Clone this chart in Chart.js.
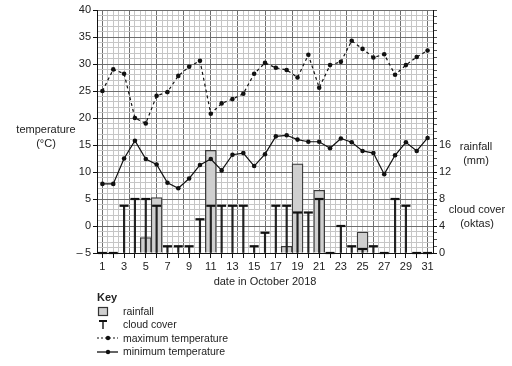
<!DOCTYPE html>
<html>
<head>
<meta charset="utf-8">
<script src="https://cdn.jsdelivr.net/npm/chart.js@4/dist/chart.umd.min.js"></script>
<style>
  html, body { margin: 0; padding: 0; background: #fff; }
  #wrap { position: relative; width: 512px; height: 366px; font-family: "Liberation Sans", Arial, sans-serif; color: #222; }
  canvas { position: absolute; left: 0; top: 0; }
  .lbl { position: absolute; font-size: 11px; text-align: center; line-height: 14px; white-space: nowrap; }
  #key { position: absolute; left: 97px; top: 289px; font-size: 10.5px; }
  #key .title { font-weight: bold; font-size: 11px; height: 16px; line-height: 16px; }
  #key .row { height: 13.3px; line-height: 13.3px; display: flex; align-items: center; }
  #key svg { width: 22px; height: 12px; margin-right: 4px; flex: none; }
</style>
</head>
<body>
<div id="wrap">
  <canvas id="c" width="512" height="366"></canvas>
  <div class="lbl" style="left:6px;top:122px;width:80px;">temperature<br>(°C)</div>
  <div class="lbl" style="left:446px;top:139px;width:60px;">rainfall<br>(mm)</div>
  <div class="lbl" style="left:443px;top:202px;width:68px;">cloud cover<br>(oktas)</div>
  <div id="key">
    <div class="title">Key</div>
    <div class="row"><svg viewBox="0 0 22 12"><rect x="1.5" y="1.5" width="9" height="8" fill="#cfcfcf" stroke="#333" stroke-width="1.2"/></svg>rainfall</div>
    <div class="row"><svg viewBox="0 0 22 12"><line x1="2" y1="2" x2="10" y2="2" stroke="#111" stroke-width="2"/><line x1="6" y1="2" x2="6" y2="10" stroke="#111" stroke-width="1.4"/></svg>cloud cover</div>
    <div class="row"><svg viewBox="0 0 22 12"><line x1="0" y1="6" x2="21" y2="6" stroke="#111" stroke-width="1.2" stroke-dasharray="2,2"/><circle cx="11" cy="6" r="2.2" fill="#111"/></svg>maximum temperature</div>
    <div class="row"><svg viewBox="0 0 22 12"><line x1="0" y1="6" x2="21" y2="6" stroke="#111" stroke-width="1.3"/><circle cx="11" cy="6" r="2.2" fill="#111"/></svg>minimum temperature</div>
  </div>
</div>
<script>
// ---- data ----
const days = [1,2,3,4,5,6,7,8,9,10,11,12,13,14,15,16,17,18,19,20,21,22,23,24,25,26,27,28,29,30,31];
const maxTemp = [25.0,29.0,28.2,20.0,19.0,24.1,24.8,27.8,29.5,30.6,20.8,22.7,23.5,24.5,28.2,30.2,29.3,28.9,27.5,31.7,25.6,29.8,30.4,34.3,32.8,31.2,31.8,28.0,29.8,31.3,32.5];
const minTemp = [7.8,7.8,12.5,15.8,12.4,11.4,8.0,7.0,8.8,11.3,12.4,10.3,13.2,13.5,11.1,13.3,16.6,16.8,16.0,15.6,15.6,14.4,16.2,15.5,13.9,13.5,9.6,13.1,15.5,13.9,16.3];
const rainfall = [0,0,0,0,2.3,8.2,0,0,0,0,15.2,0,0,0,0,0,0,1.0,13.2,0,9.3,0,0,0,3.1,0,0,0,0,0,0];
const cloudCover = [0,0,7,8,8,7,1,1,1,5,7,7,7,7,1,3,7,7,6,6,8,0,4,1,0.6,1,0,8,7,0,0];
const tempTickLabels = [-5,0,5,10,15,20,25,30,35,40];
const rightTickLabels = [0,4,8,12,16];
const dayTickLabels = [1,3,5,7,9,11,13,15,17,19,21,23,25,27,29,31];

const pts = arr => days.map((d, i) => ({x: d, y: arr[i]}));
const isMajorX = v => { const k = (v - 1) / 2.5; return Math.abs(k - Math.round(k)) < 1e-6; };
const clear = 'rgba(0,0,0,0)';
const minorGrid = '#c6c6c6', majorGrid = '#6e6e6e';

new Chart(document.getElementById('c'), {
  type: 'line',
  data: {
    datasets: [
      { type: 'line', label: 'minimum temperature', data: pts(minTemp), yAxisID: 'y',
        borderColor: '#111', backgroundColor: '#111', borderWidth: 1.2,
        pointRadius: 2.3, pointBackgroundColor: '#111', pointBorderWidth: 0, tension: 0 },
      { type: 'line', label: 'maximum temperature', data: pts(maxTemp), yAxisID: 'y',
        borderColor: '#111', backgroundColor: '#111', borderWidth: 1.2, borderDash: [3, 3],
        pointRadius: 2.3, pointBackgroundColor: '#111', pointBorderWidth: 0, tension: 0 },
      { type: 'line', label: 'cloud cover cap', data: pts(cloudCover), yAxisID: 'y2',
        showLine: false, pointStyle: 'line', pointRadius: 4.5, pointBorderWidth: 2.2,
        pointBorderColor: '#111', borderColor: '#111', clip: false },
      { type: 'bar', label: 'cloud cover', data: pts(cloudCover), yAxisID: 'y2',
        backgroundColor: '#222', borderWidth: 0, barThickness: 1.5, grouped: false },
      { type: 'bar', label: 'rainfall', data: pts(rainfall), yAxisID: 'y2',
        backgroundColor: '#cfcfcf', borderColor: '#3a3a3a', borderWidth: 1.3,
        barThickness: 11, grouped: false }
    ]
  },
  options: {
    responsive: false,
    animation: false,
    layout: { padding: { top: 10, left: 0, right: 0, bottom: 0 } },
    plugins: { legend: { display: false }, tooltip: { enabled: false } },
    scales: {
      x: {
        type: 'linear', min: 0.5, max: 31.5, offset: false,
        afterFit: s => { s.height = 113; },
        border: { color: '#111', width: 1 },
        grid: {
          offset: false,
          color: c => isMajorX(c.tick.value) ? majorGrid : minorGrid,
          tickColor: c => Number.isInteger(c.tick.value) ? '#111' : clear,
          tickLength: 5, lineWidth: 1
        },
        ticks: {
          stepSize: 0.5, autoSkip: false, maxRotation: 0, padding: 2,
          color: '#222', font: { family: 'Liberation Sans', size: 11 },
          callback: v => dayTickLabels.includes(v) ? String(v) : ''
        },
        title: { display: true, text: 'date in October 2018', color: '#222',
          font: { family: 'Liberation Sans', size: 11 }, padding: { top: 0, bottom: 77 } }
      },
      y: {
        type: 'linear', position: 'left', min: -5, max: 40,
        afterFit: s => { s.width = 97; },
        border: { color: '#111', width: 1 },
        grid: {
          color: c => (c.tick.value % 5 === 0) ? majorGrid : minorGrid,
          tickColor: c => (c.tick.value % 5 === 0) ? '#111' : clear,
          tickLength: 4, lineWidth: 1
        },
        ticks: {
          stepSize: 1, autoSkip: false, padding: 2, color: '#222',
          font: { family: 'Liberation Sans', size: 11 },
          callback: v => tempTickLabels.includes(v) ? (v < 0 ? '\u2013\u2009' + Math.abs(v) : String(v)) : ''
        }
      },
      y2: {
        type: 'linear', position: 'right', min: 0, max: 36,
        afterFit: s => { s.width = 79; },
        border: { color: '#111', width: 1 },
        grid: {
          drawOnChartArea: false,
          tickColor: c => rightTickLabels.includes(c.tick.value) ? '#111' : '#555',
          tickLength: 4
        },
        ticks: {
          stepSize: 1, autoSkip: false, padding: 2, color: '#222',
          font: { family: 'Liberation Sans', size: 11 },
          callback: v => rightTickLabels.includes(v) ? String(v) : ''
        }
      }
    }
  }
});
</script>
</body>
</html>
